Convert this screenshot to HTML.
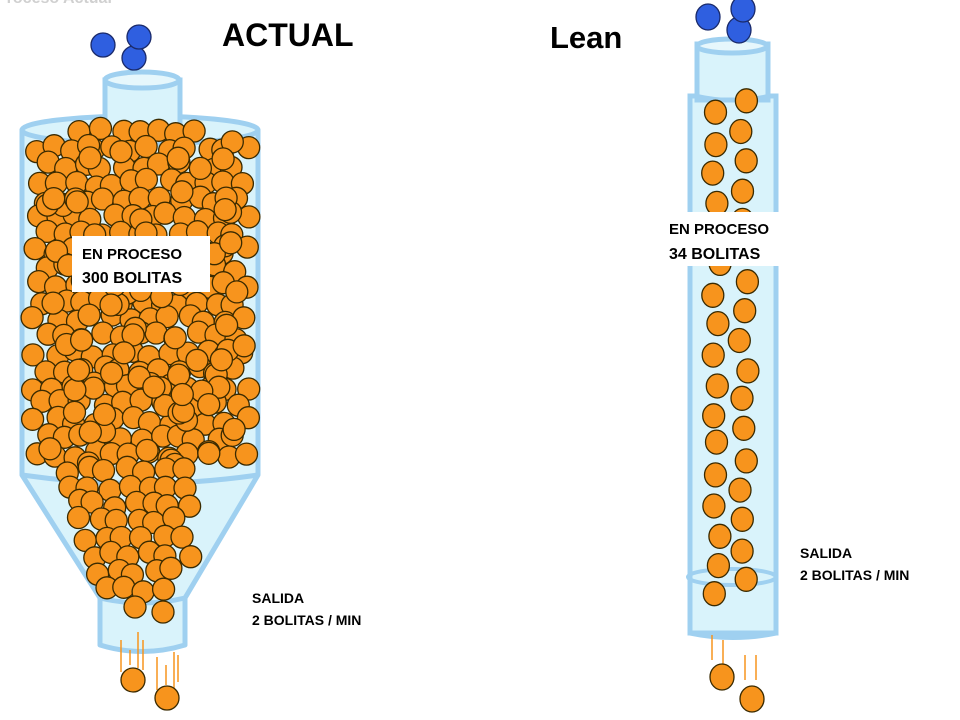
<!DOCTYPE html>
<html><head><meta charset="utf-8"><style>
html,body{margin:0;padding:0;background:#fff;width:960px;height:720px;overflow:hidden}
svg{position:absolute;left:0;top:0}
.t{font-family:"Liberation Sans",sans-serif;font-weight:bold;fill:#000}
</style></head><body>
<svg id="s" width="960" height="720" viewBox="0 0 960 720" xmlns="http://www.w3.org/2000/svg">
<text x="-4" y="3" font-family="Liberation Sans, sans-serif" font-weight="bold" font-size="16" fill="#d0d0d0">Proceso Actual</text>
<text x="222" y="46" class="t" font-weight="bold" font-size="32">ACTUAL</text>
<text x="550" y="48" class="t" font-weight="bold" font-size="31">Lean</text>
<g id="hop">
<path d="M22,130 L22,475 L100,598 L100,645 Q142,658 185,645 L185,598 L258,475 L258,130 Z" fill="#d9f3fb" stroke="#9fd0f0" stroke-width="5" stroke-linejoin="round"/>
<ellipse cx="140" cy="130" rx="118" ry="14" fill="#d9f3fb" stroke="#9fd0f0" stroke-width="5"/>
<path d="M22,475 Q140,492 258,475" fill="none" stroke="#9fd0f0" stroke-width="5"/>
<path d="M100,598 Q142,608 185,598" fill="none" stroke="#9fd0f0" stroke-width="5"/>
<rect x="105" y="80" width="75" height="58" fill="#d9f3fb" stroke="#9fd0f0" stroke-width="5"/>
<ellipse cx="142" cy="80" rx="37" ry="8" fill="#e6f7fc" stroke="#9fd0f0" stroke-width="5"/>
</g>
<g id="lean">
<rect x="690" y="96" width="86" height="537" fill="#d9f3fb" stroke="#9fd0f0" stroke-width="5"/>
<rect x="697" y="44" width="71" height="56" fill="#d9f3fb" stroke="#9fd0f0" stroke-width="5"/>
<ellipse cx="732" cy="46" rx="35" ry="7" fill="#e6f7fc" stroke="#9fd0f0" stroke-width="5"/>
<path d="M697,96 Q732,104 768,96" fill="none" stroke="#9fd0f0" stroke-width="4"/>
<ellipse cx="732" cy="577" rx="44" ry="8" fill="none" stroke="#9fd0f0" stroke-width="4"/>
<path d="M690,633 Q733,642 776,633" fill="none" stroke="#9fd0f0" stroke-width="5"/>
</g>
<g id="balls" stroke="#3a2a00" stroke-width="1.3" fill="#f7941d"></g>
<g fill="#2f5fe0" stroke="#1a2a6a" stroke-width="1.3">
<circle cx="103" cy="45" r="12"/><circle cx="134" cy="58" r="12"/><circle cx="139" cy="37" r="12"/>
<ellipse cx="708" cy="17" rx="12" ry="13"/><ellipse cx="739" cy="30" rx="12" ry="13"/><ellipse cx="743" cy="9" rx="12" ry="13"/>
</g>
<g stroke="#f7941d" stroke-width="1.5">
<line x1="121" y1="640" x2="121" y2="672"/><line x1="130" y1="650" x2="130" y2="665"/><line x1="138" y1="632" x2="138" y2="668"/>
<line x1="143" y1="640" x2="143" y2="670"/><line x1="157" y1="657" x2="157" y2="690"/><line x1="166" y1="665" x2="166" y2="685"/>
<line x1="174" y1="652" x2="174" y2="690"/><line x1="178" y1="655" x2="178" y2="682"/>
<line x1="712" y1="635" x2="712" y2="660"/><line x1="723" y1="640" x2="723" y2="665"/>
<line x1="745" y1="655" x2="745" y2="680"/><line x1="756" y1="655" x2="756" y2="680"/>
</g>
<g fill="#f7941d" stroke="#3a2a00" stroke-width="1.3">
<circle cx="133" cy="680" r="12"/><circle cx="167" cy="698" r="12"/>
<ellipse cx="722" cy="677" rx="12" ry="13"/><ellipse cx="752" cy="699" rx="12" ry="13"/>
</g>
<rect x="72" y="236" width="138" height="56" fill="#fff"/>
<text x="82" y="259" class="t" font-weight="bold" font-size="15">EN PROCESO</text>
<text x="82" y="283" class="t" font-weight="bold" font-size="16">300 BOLITAS</text>
<rect x="664" y="212" width="118" height="54" fill="#fff"/>
<text x="669" y="234" class="t" font-weight="bold" font-size="15">EN PROCESO</text>
<text x="669" y="259" class="t" font-weight="bold" font-size="16">34 BOLITAS</text>
<text x="252" y="603" class="t" font-weight="bold" font-size="14">SALIDA</text>
<text x="252" y="625" class="t" font-weight="bold" font-size="14">2 BOLITAS / MIN</text>
<text x="800" y="558" class="t" font-weight="bold" font-size="14">SALIDA</text>
<text x="800" y="580" class="t" font-weight="bold" font-size="14">2 BOLITAS / MIN</text>
</svg>
<script>
(function(){
var g=document.getElementById('balls'),NS='http://www.w3.org/2000/svg';
var seed=11;function r(){seed=(seed*16807)%2147483647;return seed/2147483647;}
function c(x,y,rx,ry){var e=document.createElementNS(NS,'ellipse');e.setAttribute('cx',x.toFixed(1));e.setAttribute('cy',y.toFixed(1));e.setAttribute('rx',rx);e.setAttribute('ry',ry);g.appendChild(e);}
// body: dense jittered grid
for(var y=132;y<470;y+=17){
  var off=((y/17)|0)%2?9:0;
  for(var x=36+off;x<=246;x+=19){
    if(y<140 && (x<70||x>215) ) continue;
    c(x+(r()-0.5)*8,y+(r()-0.5)*8,11,11);
  }
}
// extra random layer for overlap look
for(var i=0;i<80;i++){c(36+r()*210,140+r()*330,11,11);}
// cone
for(var y=470;y<600;y+=17){
  var f=(y-470)/130;
  var lo=45+f*(110-45), hi=235-f*(235-175);
  var w=hi-lo; lo+=w*0.12*(1-f); hi-=w*0.2*(1-f);
  for(var x=lo;x<=hi;x+=19){c(x+(r()-0.5)*8,y+(r()-0.5)*8,11,11);}
}
c(135,607,11,11);c(163,612,11,11);
// lean
for(var i=0;i<34;i++){var col=i%2;var yy=104+Math.floor(i/2)*30+(col?-6:8)+r()*5;
 var xx=(col?744:717)+(r()-0.5)*10;c(xx,yy,11,12);}
})();
</script>
</body></html>
